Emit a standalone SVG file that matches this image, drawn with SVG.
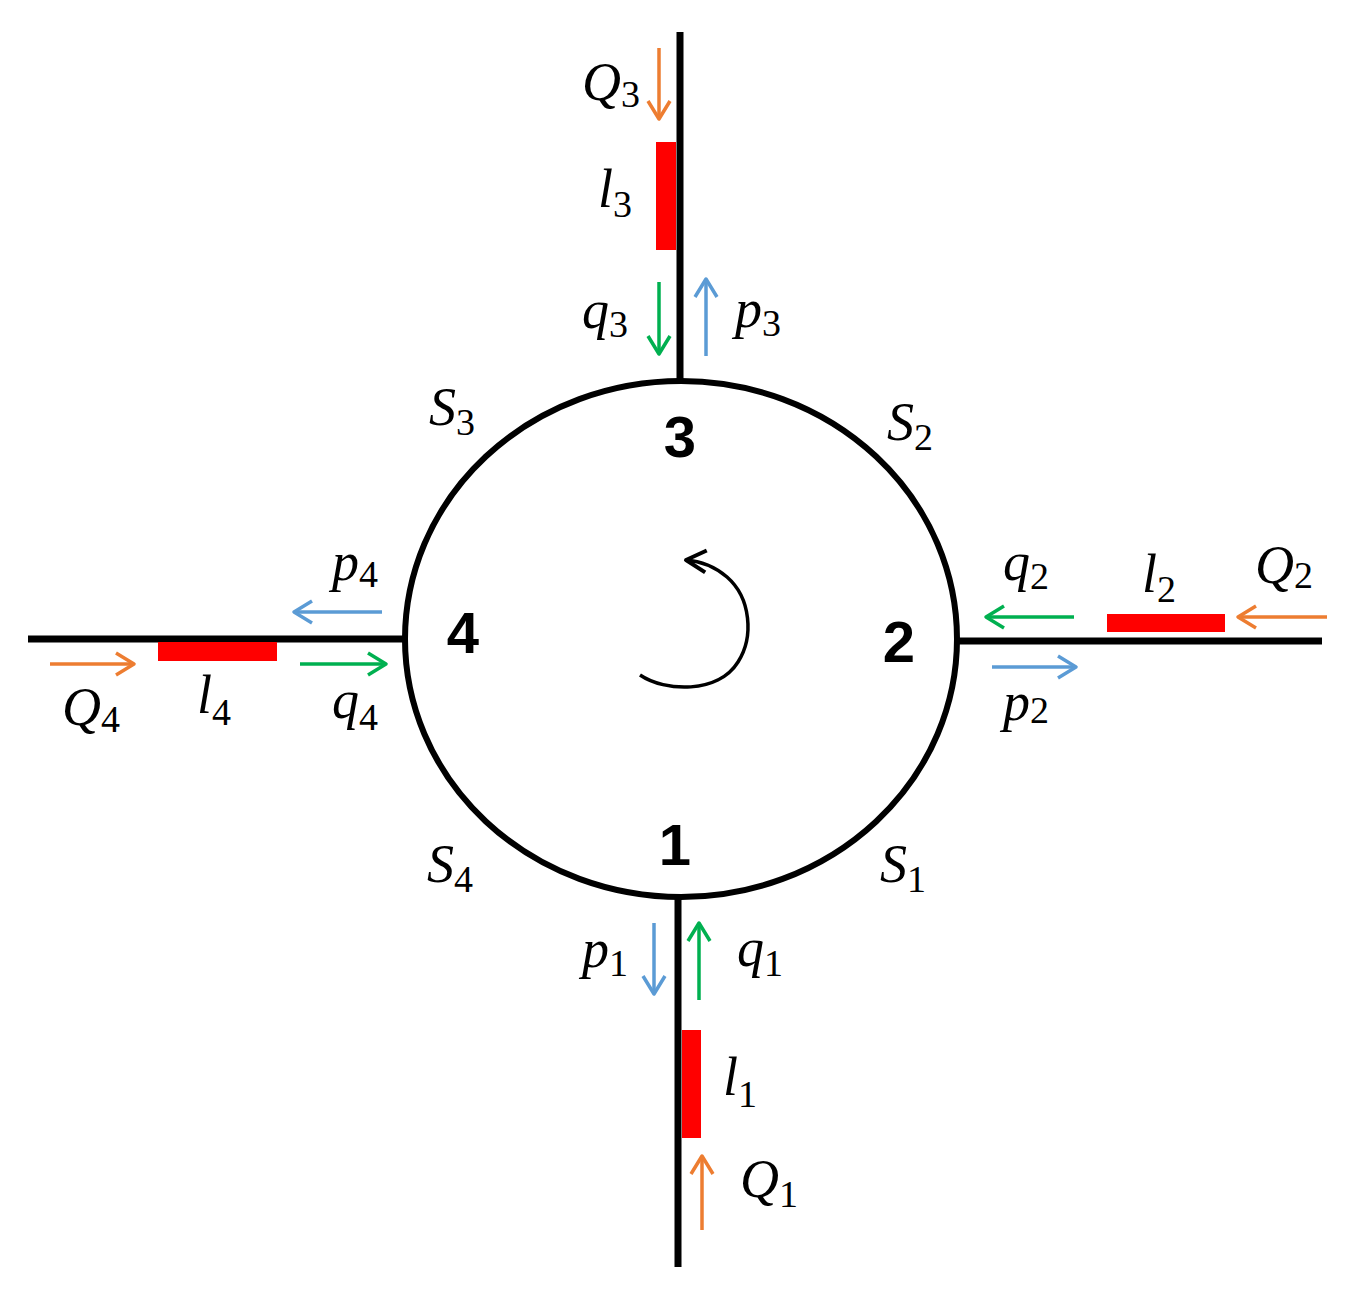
<svg xmlns="http://www.w3.org/2000/svg" width="1363" height="1297" viewBox="0 0 1363 1297">
<style>
.ln{stroke:#000;stroke-width:7;fill:none}
.ring{stroke:#000;stroke-width:6;fill:none}
.red{fill:#FF0000}
.ao{stroke:#ED7D31;stroke-width:3.5;fill:none}
.ag{stroke:#00B050;stroke-width:3.5;fill:none}
.ab{stroke:#5B9BD5;stroke-width:3.5;fill:none}
.m{font-family:"Liberation Serif","DejaVu Serif",serif;font-style:italic;font-size:54px;fill:#000}
.s{font-style:normal;font-size:38px}
.n{font-family:"Liberation Sans",Arial,sans-serif;font-weight:bold;font-size:58px;fill:#000;text-anchor:middle}
</style>
<defs>
<marker id="mo" markerUnits="userSpaceOnUse" viewBox="-22 -14 26 28" refX="0" refY="0" markerWidth="26" markerHeight="28" orient="auto" overflow="visible"><path d="M-18,-11 L0,0 L-18,11" fill="none" stroke="#ED7D31" stroke-width="3.5" stroke-linejoin="round"/></marker>
<marker id="mg" markerUnits="userSpaceOnUse" viewBox="-22 -14 26 28" refX="0" refY="0" markerWidth="26" markerHeight="28" orient="auto" overflow="visible"><path d="M-18,-11 L0,0 L-18,11" fill="none" stroke="#00B050" stroke-width="3.5" stroke-linejoin="round"/></marker>
<marker id="mb" markerUnits="userSpaceOnUse" viewBox="-22 -14 26 28" refX="0" refY="0" markerWidth="26" markerHeight="28" orient="auto" overflow="visible"><path d="M-18,-11 L0,0 L-18,11" fill="none" stroke="#5B9BD5" stroke-width="3.5" stroke-linejoin="round"/></marker>
<marker id="mk" markerUnits="userSpaceOnUse" viewBox="-26 -16 30 32" refX="0" refY="0" markerWidth="30" markerHeight="32" orient="auto" overflow="visible"><path d="M-20,-11 L0,0 L-20,11" fill="none" stroke="#000" stroke-width="4" stroke-linejoin="round"/></marker>
</defs>
<rect width="1363" height="1297" fill="#fff"/>

<g id="junction">
<ellipse class="ring" cx="681" cy="639" rx="276" ry="258"/>
<text class="n" x="680" y="457">3</text>
<text class="n" x="463" y="653">4</text>
<text class="n" x="899" y="662">2</text>
<text class="n" x="675" y="865">1</text>
<path d="M640,675 C665,692 718,694 738,662 C754,637 751,598 727,577 C714,566 700,561 686,560" fill="none" stroke="#000" stroke-width="3.5" marker-end="url(#mk)"/>
</g>

<g id="branch3">
<line class="ln" x1="680" y1="32" x2="680" y2="381"/>
<rect class="red" x="656" y="142" width="20" height="108"/>
</g>
<g id="branch1">
<line class="ln" x1="678" y1="897" x2="678" y2="1267"/>
<rect class="red" x="682" y="1030" width="19" height="108"/>
</g>
<g id="branch4">
<line class="ln" x1="28" y1="639" x2="405" y2="639"/>
<rect class="red" x="158" y="642" width="119" height="19"/>
</g>
<g id="branch2">
<line class="ln" x1="957" y1="641" x2="1322" y2="641"/>
<rect class="red" x="1107" y="614" width="118" height="18"/>
</g>

<g id="connectors">
<line class="ao" x1="659" y1="48" x2="659" y2="119" marker-end="url(#mo)"/>
<line class="ag" x1="659" y1="282" x2="659" y2="354" marker-end="url(#mg)"/>
<line class="ab" x1="706" y1="356" x2="706" y2="279" marker-end="url(#mb)"/>
<line class="ab" x1="654" y1="923" x2="654" y2="994" marker-end="url(#mb)"/>
<line class="ag" x1="699" y1="1000" x2="699" y2="923" marker-end="url(#mg)"/>
<line class="ao" x1="702" y1="1230" x2="702" y2="1156" marker-end="url(#mo)"/>
<line class="ab" x1="382" y1="612" x2="294" y2="612" marker-end="url(#mb)"/>
<line class="ag" x1="300" y1="664" x2="386" y2="664" marker-end="url(#mg)"/>
<line class="ao" x1="50" y1="664" x2="134" y2="664" marker-end="url(#mo)"/>
<line class="ag" x1="1074" y1="617" x2="986" y2="617" marker-end="url(#mg)"/>
<line class="ao" x1="1327" y1="617" x2="1238" y2="617" marker-end="url(#mo)"/>
<line class="ab" x1="992" y1="667" x2="1076" y2="667" marker-end="url(#mb)"/>
</g>

<g id="labels">
<text class="m" x="582" y="100">Q<tspan class="s" dy="7">3</tspan></text>
<text class="m" x="598" y="207">l<tspan class="s" dy="10">3</tspan></text>
<text class="m" x="582" y="328">q<tspan class="s" dy="9">3</tspan></text>
<text class="m" x="735" y="327">p<tspan class="s" dy="9">3</tspan></text>
<text class="m" x="429" y="425">S<tspan class="s" dy="10">3</tspan></text>
<text class="m" x="887" y="440">S<tspan class="s" dy="10">2</tspan></text>
<text class="m" x="332" y="580">p<tspan class="s" dy="7">4</tspan></text>
<text class="m" x="62" y="725">Q<tspan class="s" dy="7">4</tspan></text>
<text class="m" x="197" y="713">l<tspan class="s" dy="12">4</tspan></text>
<text class="m" x="332" y="718">q<tspan class="s" dy="12">4</tspan></text>
<text class="m" x="1003" y="580">q<tspan class="s" dy="9">2</tspan></text>
<text class="m" x="1142" y="592">l<tspan class="s" dy="10">2</tspan></text>
<text class="m" x="1255" y="583">Q<tspan class="s" dy="5">2</tspan></text>
<text class="m" x="1003" y="720">p<tspan class="s" dy="3">2</tspan></text>
<text class="m" x="427" y="882">S<tspan class="s" dy="10">4</tspan></text>
<text class="m" x="880" y="882">S<tspan class="s" dy="10">1</tspan></text>
<text class="m" x="582" y="967">p<tspan class="s" dy="9">1</tspan></text>
<text class="m" x="737" y="966">q<tspan class="s" dy="10">1</tspan></text>
<text class="m" x="723" y="1095">l<tspan class="s" dy="12">1</tspan></text>
<text class="m" x="740" y="1197">Q<tspan class="s" dy="10">1</tspan></text>
</g>
</svg>
